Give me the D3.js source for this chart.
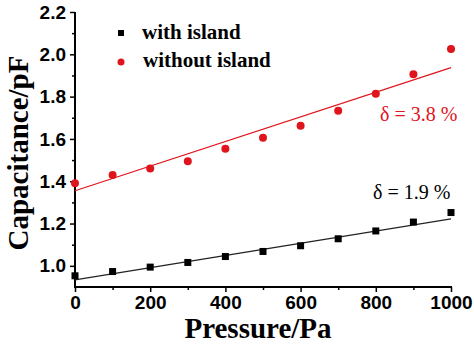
<!DOCTYPE html>
<html><head><meta charset="utf-8">
<script src="https://cdn.jsdelivr.net/npm/d3@7"></script>
<style>html,body{margin:0;padding:0;background:#fff;}svg{display:block;}</style>
</head><body>
<script>
const pressure = [0,100,200,300,400,500,600,700,800,900,1000];
const withIsland = [0.953,0.973,0.994,1.016,1.044,1.068,1.095,1.128,1.165,1.207,1.252];
const withoutIsland = [1.39,1.43,1.46,1.495,1.553,1.605,1.662,1.733,1.813,1.906,2.025];
const fitX = [0,1000];
const fitWith = [0.934,1.222];
const fitWithout = [1.355,1.937];
const xTicks = [0,200,400,600,800,1000];
const yTicks = [1.0,1.2,1.4,1.6,1.8,2.0,2.2];
const seriesNames = ["with island","without island"];
const deltaLabels = ["\u03b4 = 1.9 %","\u03b4 = 3.8 %"];

const W=474,H=351, RED="#e0141c";
const svg=d3.select("body").append("svg").attr("width",W).attr("height",H);
const x=d3.scaleLinear().domain([0,1000]).range([75,451]);
const y=d3.scaleLinear().domain([0.9,2.2]).range([287,12]);

// minor ticks
svg.append("g").attr("transform","translate(0,287)")
  .call(d3.axisBottom(x).tickValues(d3.range(100,1000,200)).tickSize(3).tickSizeOuter(0).tickFormat(""))
  .call(g=>g.select(".domain").remove()).selectAll("line").attr("stroke","#000").attr("stroke-width",1.5);
svg.append("g").attr("transform","translate(75,0)")
  .call(d3.axisLeft(y).tickValues([1.1,1.3,1.5,1.7,1.9,2.1]).tickSize(3).tickSizeOuter(0).tickFormat(""))
  .call(g=>g.select(".domain").remove()).selectAll("line").attr("stroke","#000").attr("stroke-width",1.5);

const xa=svg.append("g").attr("transform","translate(0,287)")
  .call(d3.axisBottom(x).tickValues(xTicks).tickSize(5).tickSizeOuter(0).tickPadding(4).tickFormat(d3.format("d")));
const ya=svg.append("g").attr("transform","translate(75,0)")
  .call(d3.axisLeft(y).tickValues(yTicks).tickSize(5).tickSizeOuter(0).tickPadding(4).tickFormat(d3.format(".1f")));
[xa,ya].forEach(a=>{
  a.select(".domain").attr("stroke","#000").attr("stroke-width",2);
  a.selectAll(".tick line").attr("stroke","#000").attr("stroke-width",1.5);
  a.selectAll("text").attr("font-family","'Liberation Sans',Arial,sans-serif").attr("font-weight","bold")
   .attr("font-size",19).attr("fill","#000");
});
xa.select(".domain").attr("d","M75,0H452");
ya.select(".domain").attr("d","M0,12V288");

// fit lines
const line=d3.line().x(d=>x(d[0])).y(d=>y(d[1]));
svg.append("path").datum(fitX.map((v,i)=>[v,fitWithout[i]])).attr("d",line)
  .attr("stroke",RED).attr("stroke-width",1.2).attr("fill","none");
svg.append("path").datum(fitX.map((v,i)=>[v,fitWith[i]])).attr("d",line)
  .attr("stroke","#222").attr("stroke-width",1.2).attr("fill","none");

// points
const s=7;
svg.append("g").selectAll("rect").data(pressure).join("rect")
  .attr("x",(d)=>x(d)-s/2).attr("y",(d,i)=>y(withIsland[i])-s/2).attr("width",s).attr("height",s).attr("fill","#000");
svg.append("g").selectAll("circle").data(pressure).join("circle")
  .attr("cx",d=>x(d)).attr("cy",(d,i)=>y(withoutIsland[i])).attr("r",4).attr("fill",RED);

// legend
svg.append("rect").attr("x",118).attr("y",30).attr("width",6).attr("height",6).attr("fill","#000");
svg.append("circle").attr("cx",121).attr("cy",62).attr("r",3.5).attr("fill",RED);
const serif="'Liberation Serif','Times New Roman',serif";
svg.append("text").attr("x",142).attr("y",39).text(seriesNames[0])
  .attr("font-family",serif).attr("font-weight","bold").attr("font-size",21);
svg.append("text").attr("x",143).attr("y",67).text(seriesNames[1])
  .attr("font-family",serif).attr("font-weight","bold").attr("font-size",21);

// annotations
svg.append("text").attr("x",380).attr("y",121).text(deltaLabels[1])
  .attr("font-family",serif).attr("font-size",20).attr("fill",RED);
svg.append("text").attr("x",373).attr("y",199).text(deltaLabels[0])
  .attr("font-family",serif).attr("font-size",20).attr("fill","#000");

// axis titles
svg.append("text").attr("x",258).attr("y",338).attr("text-anchor","middle").text("Pressure/Pa")
  .attr("font-family",serif).attr("font-weight","bold").attr("font-size",29);
svg.append("text").attr("transform","translate(28,153) rotate(-90)").attr("text-anchor","middle").text("Capacitance/pF")
  .attr("font-family",serif).attr("font-weight","bold").attr("font-size",29);
</script>
</body></html>
